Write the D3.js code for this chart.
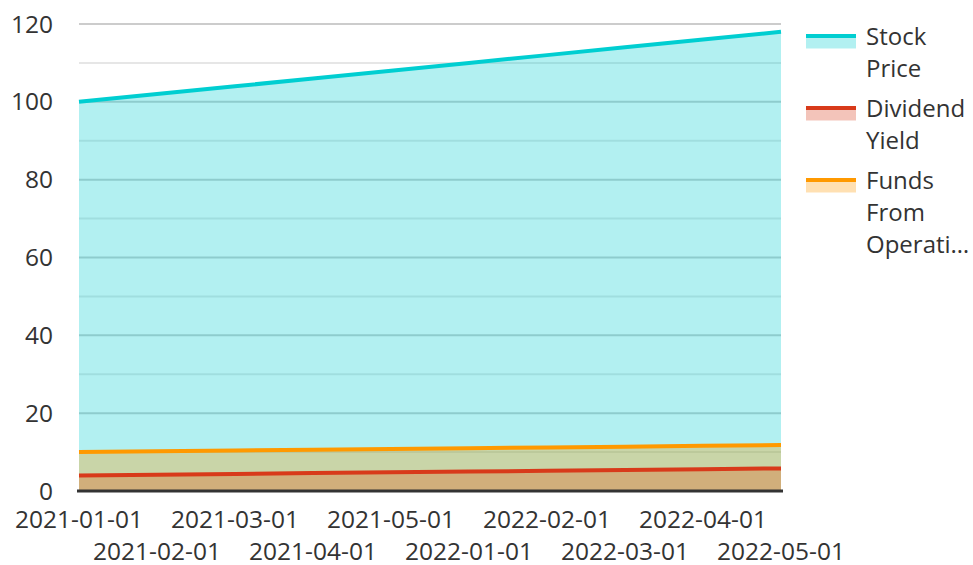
<!DOCTYPE html>
<html><head><meta charset="utf-8">
<script src="https://cdn.jsdelivr.net/npm/d3@7"></script>
<style>
body{margin:0;background:#fff;}
text{font-family:"Open Sans",sans-serif;fill:#333;}
</style></head>
<body><svg id="c" width="973" height="565"></svg>
<script>
const dates = ["2021-01-01","2021-02-01","2021-03-01","2021-04-01","2021-05-01","2022-01-01","2022-02-01","2022-03-01","2022-04-01","2022-05-01"];
const stockPrice = [100,102,104,106,108,110,112,114,116,118];
const dividendYield = [4.0,4.2,4.4,4.6,4.8,5.0,5.2,5.4,5.6,5.8];
const ffo = [10.0,10.2,10.4,10.6,10.8,11.0,11.2,11.4,11.6,11.8];
const seriesNames = ["Stock Price","Dividend Yield","Funds From Operations"];
const legendLines = [["Stock","Price"],["Dividend","Yield"],["Funds","From","Operati…"]];
const colors = ["#00CED1","#D83A1A","#FF9900"];
const yTicks = [0,20,40,60,80,100,120];
const yMinor = [10,30,50,70,90,110];

const svg = d3.select("#c");
const L=79,R=781,T=24,B=491;
const x = d3.scalePoint().domain(dates).range([L,R]);
const y = d3.scaleLinear().domain([0,120]).range([B,T]);

// grid
svg.append("g").selectAll("line").data(yMinor).join("line")
  .attr("x1",L).attr("x2",R).attr("y1",d=>y(d)).attr("y2",d=>y(d))
  .attr("stroke","#e6e6e6").attr("stroke-width",2);
svg.append("g").selectAll("line").data(yTicks.filter(d=>d>0)).join("line")
  .attr("x1",L).attr("x2",R).attr("y1",d=>y(d)).attr("y2",d=>y(d))
  .attr("stroke","#cccccc").attr("stroke-width",2);

const series = [stockPrice,dividendYield,ffo];
const area = d3.area().x((d,i)=>x(dates[i])).y0(y(0)).y1(d=>y(d));
const line = d3.line().x((d,i)=>x(dates[i])).y(d=>y(d));
series.forEach((s,k)=>{
  svg.append("path").attr("d",area(s)).attr("fill",colors[k]).attr("fill-opacity",0.3);
});
series.forEach((s,k)=>{
  svg.append("path").attr("d",line(s)).attr("fill","none").attr("stroke",colors[k]).attr("stroke-width",4);
});

// x axis baseline
svg.append("line").attr("x1",L-2).attr("x2",R+2).attr("y1",B).attr("y2",B).attr("stroke","#333").attr("stroke-width",3);

// y labels
svg.append("g").selectAll("text").data(yTicks).join("text")
  .attr("x",53).attr("y",d=>y(d)).attr("dy","0.35em").attr("text-anchor","end")
  .attr("font-size",24.5).text(d=>d);

// x labels
svg.append("g").selectAll("text").data(dates).join("text")
  .attr("x",d=>x(d)).attr("y",(d,i)=> i%2===0?528:560).attr("text-anchor","middle")
  .attr("font-size",24.5).text(d=>d);

// legend
const lg = svg.append("g");
legendLines.forEach((lines,k)=>{
  const y0 = 36 + k*72;
  lg.append("rect").attr("x",806).attr("y",y0).attr("width",50).attr("height",12.5).attr("fill",colors[k]).attr("fill-opacity",0.3);
  lg.append("line").attr("x1",806).attr("x2",856).attr("y1",y0).attr("y2",y0).attr("stroke",colors[k]).attr("stroke-width",4);
  lines.forEach((t,j)=>{
    lg.append("text").attr("x",866).attr("y",y0+9+j*32).attr("font-size",24).text(t);
  });
});
</script></body></html>
